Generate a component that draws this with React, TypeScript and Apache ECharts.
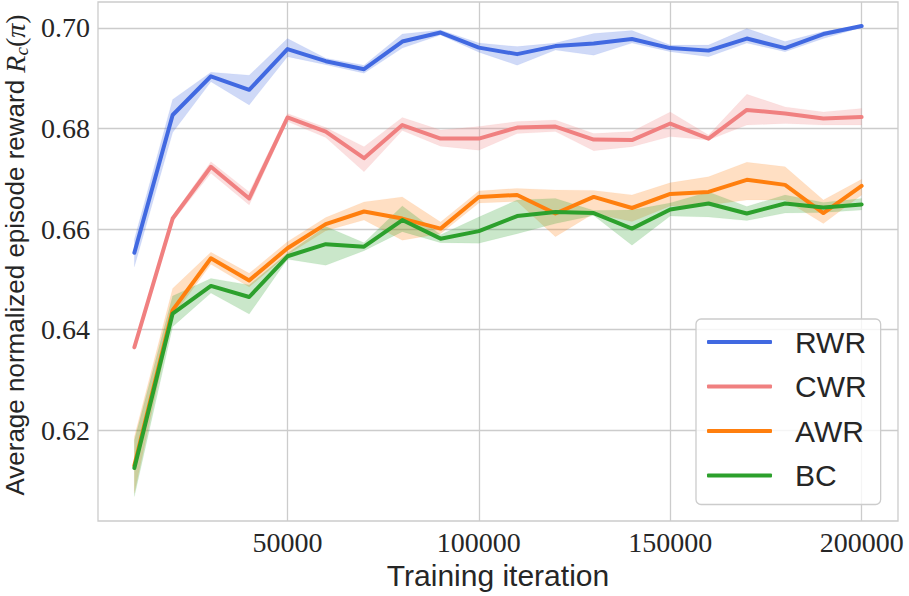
import React, { useEffect, useRef } from "react";
import * as echarts from "echarts";

const iterations = [10000, 20000, 30000, 40000, 50000, 60000, 70000, 80000, 90000, 100000, 110000, 120000, 130000, 140000, 150000, 160000, 170000, 180000, 190000, 200000];

const rwrMean = [0.6553, 0.6827, 0.6904, 0.6877, 0.6958, 0.6934, 0.6918, 0.6973, 0.6991, 0.6961, 0.6948, 0.6964, 0.6969, 0.6978, 0.6960, 0.6955, 0.6979, 0.6960, 0.6988, 0.7004];
const rwrLow = [0.6525, 0.6792, 0.6893, 0.6847, 0.6943, 0.6927, 0.6910, 0.6960, 0.6986, 0.6952, 0.6926, 0.6956, 0.6946, 0.6970, 0.6953, 0.6943, 0.6970, 0.6953, 0.6979, 0.7001];
const rwrHigh = [0.6580, 0.6858, 0.6912, 0.6906, 0.6979, 0.6940, 0.6926, 0.6988, 0.6996, 0.6970, 0.6963, 0.6970, 0.6989, 0.6995, 0.6966, 0.6966, 0.6999, 0.6973, 0.6993, 0.7006];

const cwrMean = [0.6365, 0.6621, 0.6724, 0.6661, 0.6822, 0.6794, 0.6741, 0.6807, 0.6780, 0.6780, 0.6802, 0.6804, 0.6778, 0.6777, 0.6810, 0.6780, 0.6837, 0.6830, 0.6820, 0.6823];
const cwrLow = [0.6360, 0.6615, 0.6711, 0.6648, 0.6814, 0.6782, 0.6714, 0.6796, 0.6765, 0.6757, 0.6790, 0.6794, 0.6756, 0.6764, 0.6784, 0.6777, 0.6807, 0.6810, 0.6807, 0.6807];
const cwrHigh = [0.6370, 0.6627, 0.6734, 0.6674, 0.6830, 0.6802, 0.6764, 0.6822, 0.6797, 0.6804, 0.6814, 0.6817, 0.6790, 0.6794, 0.6833, 0.6787, 0.6868, 0.6843, 0.6833, 0.6840];

const awrMean = [0.6130, 0.6439, 0.6542, 0.6498, 0.6562, 0.6610, 0.6635, 0.6621, 0.6601, 0.6664, 0.6668, 0.6631, 0.6664, 0.6642, 0.6670, 0.6674, 0.6698, 0.6688, 0.6632, 0.6686];
const awrLow = [0.6075, 0.6426, 0.6530, 0.6485, 0.6549, 0.6597, 0.6618, 0.6578, 0.6591, 0.6652, 0.6655, 0.6585, 0.6631, 0.6615, 0.6646, 0.6648, 0.6658, 0.6658, 0.6611, 0.6668];
const awrHigh = [0.6187, 0.6482, 0.6554, 0.6512, 0.6575, 0.6623, 0.6654, 0.6664, 0.6614, 0.6676, 0.6681, 0.6678, 0.6677, 0.6668, 0.6692, 0.6704, 0.6733, 0.6724, 0.6658, 0.6699];

const bcMean = [0.6125, 0.6432, 0.6487, 0.6465, 0.6546, 0.6570, 0.6565, 0.6618, 0.6581, 0.6596, 0.6626, 0.6634, 0.6632, 0.6601, 0.6639, 0.6651, 0.6631, 0.6651, 0.6643, 0.6649];
const bcLow = [0.6068, 0.6406, 0.6473, 0.6431, 0.6540, 0.6528, 0.6557, 0.6595, 0.6573, 0.6572, 0.6591, 0.6611, 0.6627, 0.6568, 0.6626, 0.6624, 0.6617, 0.6632, 0.6633, 0.6638];
const bcHigh = [0.6180, 0.6467, 0.6502, 0.6489, 0.6552, 0.6605, 0.6573, 0.6646, 0.6589, 0.6624, 0.6658, 0.6661, 0.6637, 0.6638, 0.6652, 0.6674, 0.6645, 0.6668, 0.6653, 0.6661];

const xTicks = [50000, 100000, 150000, 200000];
const yTicks = [0.62, 0.64, 0.66, 0.68, 0.7];

const methods = [
  { name: "RWR", color: "#4169e1", mean: rwrMean, low: rwrLow, high: rwrHigh },
  { name: "CWR", color: "#f08080", mean: cwrMean, low: cwrLow, high: cwrHigh },
  { name: "AWR", color: "#ff7f0e", mean: awrMean, low: awrLow, high: awrHigh },
  { name: "BC", color: "#2ca02c", mean: bcMean, low: bcLow, high: bcHigh },
];

const TEXT = "#262626";
const GRIDC = "#cccccc";

export default function App() {
  const ref = useRef<HTMLDivElement>(null);
  useEffect(() => {
    document.body.style.margin = "0";
    if (!ref.current) return;
    const chart = echarts.init(ref.current, null, { renderer: "svg" });

    const bandSeries = methods.map((m) => ({
      name: m.name + " band",
      type: "custom",
      z: 1,
      clip: true,
      silent: true,
      data: iterations.map((x, i) => [x, m.low[i], m.high[i]]),
      encode: { x: 0, y: [1, 2] },
      renderItem: (params: any, api: any) => {
        if (params.dataIndex !== 0) return null;
        const top = iterations.map((x, i) => api.coord([x, m.high[i]]));
        const bot = iterations.map((x, i) => api.coord([x, m.low[i]])).reverse();
        return {
          type: "polygon",
          shape: { points: top.concat(bot) },
          style: { fill: m.color, opacity: 0.25, stroke: m.color, lineWidth: 0.8, strokeOpacity: 0.25 },
        };
      },
    }));

    const lineSeries = methods.map((m) => ({
      name: m.name,
      type: "line",
      z: 3,
      symbol: "none",
      showSymbol: false,
      color: m.color,
      lineStyle: { color: m.color, width: 4, cap: "round", join: "round" },
      data: iterations.map((x, i) => [x, m.mean[i]]),
    }));

    chart.setOption({
      animation: false,
      backgroundColor: "#ffffff",
      grid: {
        left: 98,
        top: 2,
        right: 11,
        bottom: 75,
        show: true,
        borderColor: GRIDC,
        borderWidth: 1.3,
        backgroundColor: "transparent",
        containLabel: false,
      },
      xAxis: {
        type: "value",
        min: 500,
        max: 209500,
        name: "Training iteration",
        nameLocation: "middle",
        nameGap: 31,
        nameTextStyle: { fontFamily: "Liberation Sans", fontSize: 30, color: TEXT },
        axisLine: { show: false },
        axisTick: { show: false, customValues: xTicks },
        splitLine: { show: true, lineStyle: { color: GRIDC, width: 1.3 } },
        axisLabel: {
          customValues: xTicks,
          fontFamily: "Liberation Serif",
          fontSize: 28,
          color: TEXT,
          margin: 7,
          formatter: (v: number) => String(v),
        },
      },
      yAxis: {
        type: "value",
        min: 0.60195,
        max: 0.70517,
        axisLine: { show: false },
        axisTick: { show: false, customValues: yTicks },
        splitLine: { show: true, lineStyle: { color: GRIDC, width: 1.3 } },
        axisLabel: {
          customValues: yTicks,
          fontFamily: "Liberation Serif",
          fontSize: 28,
          color: TEXT,
          margin: 8,
          formatter: (v: number) => v.toFixed(2),
        },
      },
      legend: {
        orient: "vertical",
        left: 696,
        top: 319,
        data: methods.map((m) => ({ name: m.name, icon: "roundRect", itemStyle: { color: m.color } })),
        itemWidth: 65,
        itemHeight: 4,
        itemGap: 14.5,
        padding: [8, 14, 14, 11],
        backgroundColor: "rgba(255,255,255,0.8)",
        borderColor: GRIDC,
        borderWidth: 1.3,
        borderRadius: 5,
        selectedMode: false,
        textStyle: {
          fontFamily: "Liberation Sans",
          fontSize: 30,
          lineHeight: 30,
          color: TEXT,
          padding: [0, 0, 0, 18],
        },
      },
      graphic: [
        {
          type: "text",
          x: 15,
          y: 255,
          rotation: Math.PI / 2,
          silent: true,
          style: {
            text: "Average normalized episode reward {m|R}{s|c}{p|(}{m|π}{p|)}",
            fontFamily: "Liberation Sans",
            fontSize: 26,
            fill: TEXT,
            align: "center",
            verticalAlign: "middle",
            rich: {
              m: { fontFamily: "Liberation Serif", fontStyle: "italic", fontSize: 28, fill: TEXT },
              s: { fontFamily: "Liberation Serif", fontStyle: "italic", fontSize: 19, fill: TEXT, padding: [12, 0, 0, 0] },
              p: { fontFamily: "Liberation Serif", fontSize: 28, fill: TEXT },
            },
          },
        },
      ],
      series: [...bandSeries, ...lineSeries],
    });
    return () => chart.dispose();
  }, []);
  return <div ref={ref} style={{ width: 909, height: 596 }} />;
}
